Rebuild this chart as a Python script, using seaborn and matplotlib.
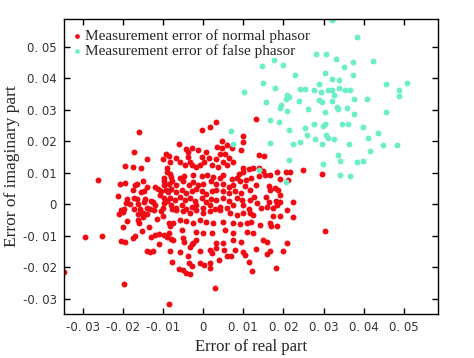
import numpy as np
import pandas as pd
import matplotlib
matplotlib.use("Agg")
import matplotlib.pyplot as plt
import seaborn as sns

# values are in thousandths (x 1e-3)
normal_re_milli = [
    -16.0,-17.3,-14.0,-10.1,-9.3,-8.5,-19.4,-17.5,-15.6,-8.3,
    -9.0,-9.0,-26.3,-20.8,-19.4,-17.1,-16.6,-15.1,-9.8,-9.8,
    -9.9,-8.0,-7.8,-8.5,-21.3,-14.0,-12.1,-15.5,-14.8,-17.5,
    -11.3,-10.5,-10.8,-9.4,-8.8,-8.1,-19.1,-17.3,-16.6,-14.4,
    -13.1,-9.8,-9.1,-9.8,-19.3,-18.3,-16.3,-14.8,-12.5,-11.9,
    -20.6,-19.8,-20.1,-17.3,-15.8,-14.0,-13.3,-16.3,-15.0,-14.1,
    -10.6,-10.1,-8.0,-7.7,
    3.1,1.6,-0.2,13.1,-6.0,4.6,5.8,9.8,9.9,3.5,
    4.6,7.1,-4.2,-2.7,-1.2,-3.8,0.8,4.1,5.5,9.3,
    13.8,15.1,-6.8,-5.8,-3.8,-3.3,-2.8,-0.3,1.5,0.1,
    -0.8,3.1,5.0,5.8,6.3,7.3,2.1,3.6,-1.7,-4.5,
    9.8,11.3,12.4,8.9,9.9,13.9,14.9,16.6,18.3,13.9,
    15.4,19.1,-8.3,-5.8,-4.7,-2.5,-0.3,1.0,2.5,4.1,
    5.0,7.1,8.3,9.1,10.6,11.9,-6.7,-5.0,-3.5,-2.5,
    -1.2,0.0,2.0,3.3,5.0,6.3,7.5,10.4,11.6,13.1,
    16.3,16.6,17.9,18.6,19.1,-6.7,-5.3,-4.2,-2.8,-1.7,
    -0.3,0.8,2.1,3.3,5.0,6.3,8.0,9.3,-8.3,-7.0,
    -5.8,-4.5,-3.3,-2.0,-0.3,0.8,2.0,3.3,5.0,6.3,
    8.3,9.6,11.6,12.6,15.6,16.3,18.1,19.1,-6.7,-5.3,
    -4.2,-2.8,-1.7,0.0,1.6,3.0,4.1,5.8,7.5,9.8,
    11.3,13.4,14.3,15.8,17.4,18.4,
    -21.1,-19.0,-20.1,-16.3,-16.0,-15.1,-15.3,-13.6,-12.3,-11.5,
    -10.1,-8.5,-8.3,-29.4,-25.3,-20.5,-19.6,-17.6,-17.1,-13.0,
    -12.1,-11.0,-9.9,-9.1,-8.5,-8.0,-11.0,-14.0,-13.3,-12.6,
    -8.3,-7.7,-34.7,-19.8,-8.5,
    -6.7,-5.0,-3.3,-1.7,0.0,1.6,4.1,6.6,8.3,9.9,
    11.6,12.4,17.4,19.1,-7.5,-5.8,-4.2,-2.5,-0.8,0.8,
    2.5,5.0,7.5,9.1,10.8,12.0,14.1,16.6,17.0,-5.3,
    -1.7,0.0,2.1,5.5,7.5,10.9,12.4,18.3,-7.5,-5.0,
    -4.8,-2.5,-1.8,3.3,5.0,7.5,9.4,14.9,15.8,-5.8,
    -3.3,-2.8,-0.7,1.6,2.1,3.3,5.1,8.0,9.9,10.3,
    13.1,15.9,16.6,-3.7,-3.5,-0.7,0.3,1.6,1.6,4.0,
    6.0,7.0,11.3,-6.0,-5.0,-4.2,-3.3,-2.7,12.1,18.1,
    3.0,
    19.8,20.9,24.9,29.7,30.4,20.6,21.6,22.4,22.4,20.8,21.2,
]
normal_im_milli = [
    22.9,16.6,14.4,14.4,15.9,15.3,12.3,12.0,11.5,13.6,
    11.5,10.4,7.7,6.6,6.7,6.2,6.6,7.3,8.5,7.5,
    6.2,8.7,7.5,6.6,2.8,5.4,5.4,3.9,4.3,4.5,
    4.9,4.1,3.0,4.6,3.9,4.9,1.8,2.0,1.8,1.8,
    1.1,2.0,1.1,0.4,0.4,0.1,0.1,0.7,0.7,-0.1,
    -1.7,-1.4,-2.4,-1.6,-1.4,-1.2,-1.6,-2.9,-2.7,-2.9,
    -2.0,-1.2,-0.1,-1.4,
    26.3,24.6,23.6,27.1,19.1,20.1,18.9,21.8,19.9,18.2,
    17.8,18.0,17.6,17.8,17.4,16.6,16.6,15.9,16.1,17.2,
    15.7,15.3,14.7,13.6,14.9,13.6,12.5,15.1,14.7,13.6,
    12.5,14.4,13.6,12.5,14.7,13.6,12.5,11.9,12.0,12.5,
    11.7,11.3,11.7,9.8,10.4,11.5,10.6,9.4,10.4,9.1,
    9.2,8.1,9.8,8.3,9.0,9.4,9.0,9.4,8.7,8.3,
    9.4,8.1,8.5,7.3,7.7,8.3,6.2,7.3,6.2,7.1,
    6.2,6.6,7.3,6.4,6.6,5.6,6.2,5.8,4.7,6.2,
    6.0,4.7,5.2,4.5,3.0,3.9,4.5,3.5,4.1,4.9,
    4.1,3.3,4.1,4.5,4.1,3.5,4.3,3.5,2.0,1.4,
    2.4,1.4,2.0,1.1,2.0,0.9,1.8,1.4,2.0,1.1,
    2.0,1.4,1.4,2.4,2.2,0.7,1.1,0.7,-1.2,-0.1,
    -1.6,-0.8,-0.3,-1.2,-0.1,-1.4,-0.8,-1.2,-0.3,-0.3,
    -1.4,0.3,-1.0,-0.8,-1.2,-0.1,
    -3.0,-5.3,-7.2,-4.9,-5.9,-4.0,-8.3,-7.2,-1.7,-4.5,
    -3.8,-5.9,-6.8,-10.2,-9.9,-11.6,-11.8,-10.8,-9.9,-10.2,
    -9.7,-9.5,-9.7,-10.2,-9.1,-11.0,-12.5,-14.8,-15.0,-14.8,
    -14.8,-18.2,-21.6,-25.2,-31.7,
    -1.7,-2.2,-2.8,-1.7,-2.8,-2.2,-1.7,-2.6,-3.3,-2.8,
    -2.6,-3.3,-3.6,-3.8,-5.9,-4.9,-5.4,-5.9,-4.9,-5.7,
    -5.9,-5.5,-5.9,-6.1,-5.9,-5.7,-6.5,-5.9,-7.0,-8.0,
    -8.7,-9.1,-9.1,-8.0,-9.1,-8.7,-9.1,-7.0,-11.4,-10.8,
    -11.8,-12.3,-11.4,-12.1,-12.3,-11.2,-11.8,-11.4,-11.8,-15.2,
    -13.5,-12.6,-14.8,-14.6,-15.4,-13.8,-14.4,-14.6,-15.0,-16.1,
    -14.2,-15.6,-14.8,-16.5,-18.6,-18.6,-19.4,-18.6,-20.3,-17.5,
    -16.5,-16.3,-18.2,-20.5,-20.9,-21.8,-22.0,-19.7,-21.1,-20.1,
    -26.4,
    -14.8,-12.3,11.0,9.7,-8.6,10.4,10.4,0.9,-4.0,-1.7,7.8,
]

false_re_milli = [
    32.1,38.2,28.1,30.6,33.2,37.4,42.2,17.6,19.8,14.6,
    35.2,22.9,30.4,37.2,45.5,50.8,48.9,48.7,14.8,17.9,
    28.9,32.2,33.9,24.1,25.4,27.6,29.3,31.1,32.2,33.9,
    35.4,36.6,10.1,20.9,21.4,20.6,23.8,28.9,29.6,32.1,
    37.6,40.7,15.6,19.3,19.1,20.9,26.1,30.4,33.4,33.7,
    35.9,37.6,45.5,16.6,18.9,25.4,27.7,29.9,30.4,34.6,
    36.1,39.7,43.5,7.0,21.4,25.8,27.9,30.6,31.0,32.7,
    41.0,44.7,48.2,7.5,16.6,22.4,24.1,29.6,36.4,41.5,
    33.7,34.2,38.2,39.9,21.4,29.9,13.9,34.2,36.6,20.6,
    32.6,
]
false_im_milli = [
    58.6,53.3,47.8,47.8,46.2,45.2,45.7,45.9,44.4,44.1,
    43.8,41.2,41.7,41.0,38.3,38.7,36.4,34.3,38.5,37.0,
    38.3,39.8,39.4,36.6,36.6,36.4,35.6,36.4,36.4,37.0,
    36.4,36.4,35.7,34.8,34.1,33.4,32.8,33.2,32.4,32.7,
    33.4,33.6,32.5,31.7,30.7,29.8,30.4,29.3,30.9,30.3,
    30.7,28.8,29.3,26.7,26.1,24.3,25.6,24.8,25.6,25.6,
    25.4,24.5,22.6,23.3,23.7,21.9,20.9,21.9,21.2,20.9,
    21.2,19.0,19.0,19.3,19.5,19.3,19.8,19.3,19.3,17.1,
    15.7,13.8,13.6,13.8,14.2,12.9,10.8,9.4,8.9,7.1,
    34.7,
]

x_ticks = [-0.03, -0.02, -0.01, 0.0, 0.01, 0.02, 0.03, 0.04, 0.05]
x_tick_labels = ["-0. 03", "-0. 02", "-0. 01", "0", "0. 01", "0. 02", "0. 03", "0. 04", "0. 05"]
y_ticks = [-0.03, -0.02, -0.01, 0.0, 0.01, 0.02, 0.03, 0.04, 0.05]
y_tick_labels = ["-0. 03", "-0. 02", "-0. 01", "0", "0. 01", "0. 02", "0. 03", "0. 04", "0. 05"]

label_normal = "Measurement error of normal phasor"
label_false = "Measurement error of false phasor"

df_normal = pd.DataFrame({"re": np.array(normal_re_milli) / 1000.0,
                          "im": np.array(normal_im_milli) / 1000.0})
df_false = pd.DataFrame({"re": np.array(false_re_milli) / 1000.0,
                         "im": np.array(false_im_milli) / 1000.0})

sns.set_style("white")
plt.rcParams["font.family"] = ["DejaVu Sans"]

fig = plt.figure(figsize=(4.74, 3.58), dpi=100)
ax = fig.add_axes([0.135, 0.123, 0.789, 0.824])

sns.scatterplot(data=df_normal, x="re", y="im", ax=ax, color="#f00a14",
                s=18, linewidth=0, label=label_normal)
sns.scatterplot(data=df_false, x="re", y="im", ax=ax, color="#6cefc8",
                s=18, linewidth=0, label=label_false)

ax.set_xlim(-0.0347, 0.0585)
ax.set_ylim(-0.0348, 0.0589)
ax.set_xticks(x_ticks)
ax.set_xticklabels(x_tick_labels)
ax.set_yticks(y_ticks)
ax.set_yticklabels(y_tick_labels)
ax.tick_params(direction="in", bottom=True, left=True, top=True, right=True,
               length=4, width=1, color="black",
               labelsize=8.5, labelcolor="#333333", pad=5)
for sp in ax.spines.values():
    sp.set_color("black")
    sp.set_linewidth(1.0)

serif = {"family": "Liberation Serif"}
ax.set_xlabel("Error of real part", fontdict=dict(serif, size=12), labelpad=4)
ax.set_ylabel("Error of imaginary part", fontdict=dict(serif, size=12.5), labelpad=2)

leg = ax.legend(loc="upper left", bbox_to_anchor=(-0.005, 1.0), frameon=False,
                prop={"family": "Liberation Serif", "size": 11},
                handlelength=0.6, handletextpad=0.2, labelspacing=0.05,
                borderaxespad=0.3, markerscale=0.8)

fig.savefig("out.png", dpi=100)
